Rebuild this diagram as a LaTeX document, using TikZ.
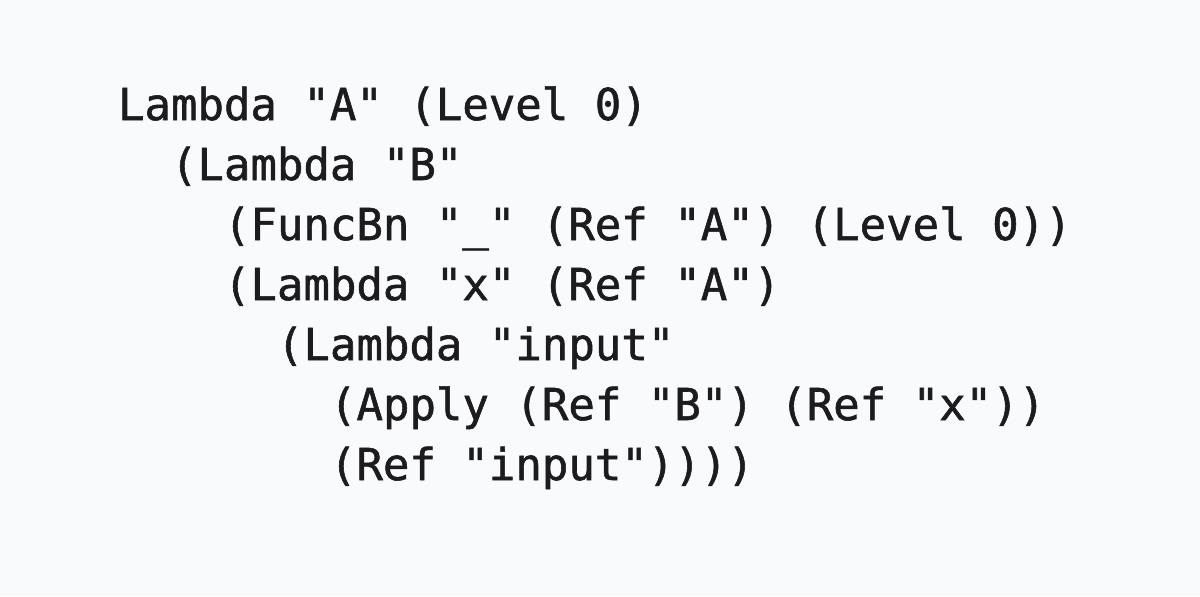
\documentclass[tikz,border=0pt]{standalone}
\usepackage{fontspec}
\newfontfamily\codefont[FakeBold=1.3]{DejaVu Sans Mono}
\usepackage{xcolor}
\definecolor{pagebg}{RGB}{249,250,251}
\definecolor{codeink}{RGB}{28,28,30}
\newcommand{\widthindent}{26.5pt}
\newcommand{\heightline}{30pt}
\tikzset{
    codeline/.style={anchor=base west, inner sep=0pt, outer sep=0pt, text=codeink,
        font=\codefont\fontsize{22pt}{26pt}\selectfont},
}
\begin{document}
\begin{tikzpicture}[x=1pt, y=1pt]
      \fill[pagebg] (0,0) rectangle (600,-298);
      \useasboundingbox (0,0) rectangle (600,-298);

      \path
          (59,-60) coordinate (origin)
          (origin) node[codeline] (line-1) {Lambda "A" (Level 0)}
          ++(\widthindent,-\heightline) node[codeline] (line-2) {(Lambda "B"}
          ++(\widthindent,-\heightline) node[codeline] (line-3) {(FuncBn "\_" (Ref "A") (Level 0))}
          ++(0,-\heightline) node[codeline] (line-4) {(Lambda "x" (Ref "A")}
          ++(\widthindent,-\heightline) node[codeline] (line-5) {(Lambda "input"}
          ++(\widthindent,-\heightline) node[codeline] (line-6) {(Apply (Ref "B") (Ref "x"))}
          ++(0,-\heightline) node[codeline] (line-7) {(Ref "input"))))};
    \end{tikzpicture}
\end{document}
